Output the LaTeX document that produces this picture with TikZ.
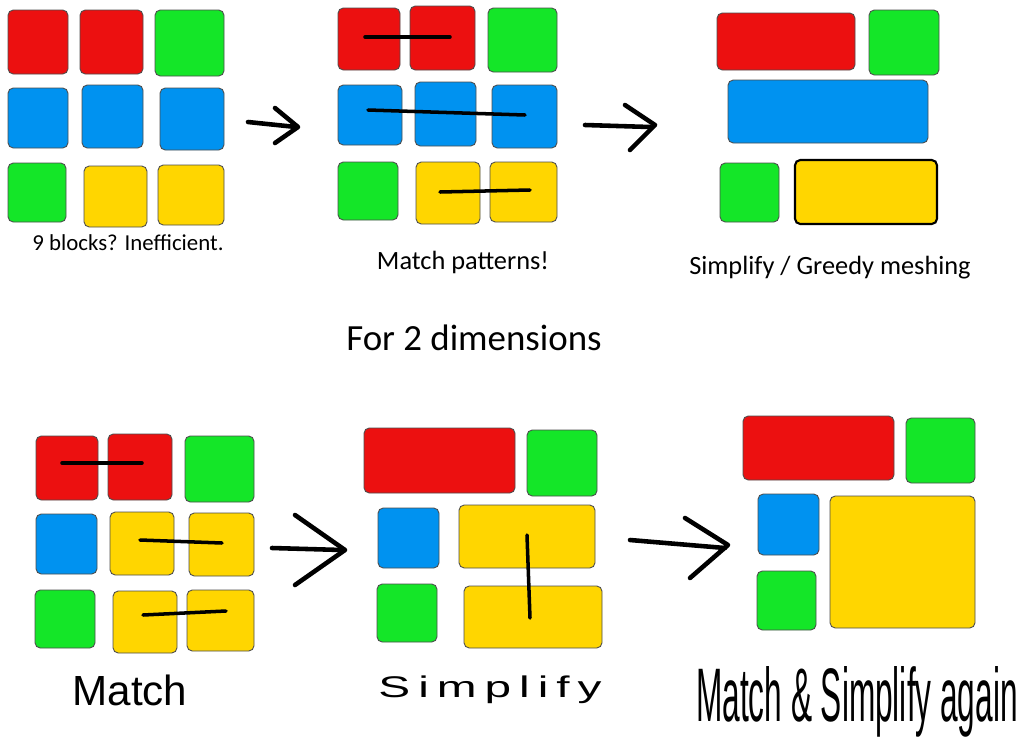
\documentclass[tikz,border=0pt]{standalone}
\usepackage{fontspec}
\setmainfont{Carlito}
\newfontfamily\handfont{Liberation Sans}
\definecolor{bred}{RGB}{236,16,16}
\definecolor{bgreen}{RGB}{20,230,40}
\definecolor{bblue}{RGB}{0,146,240}
\definecolor{byellow}{RGB}{255,214,0}
\tikzset{
	blk/.style      = {draw=black!70, rounded corners=3pt, line width=0.5pt},
	red/.style      = {blk, fill=bred},
	green/.style    = {blk, fill=bgreen},
	blue/.style     = {blk, fill=bblue},
	yellow/.style   = {blk, fill=byellow},
	match/.style    = {line width=2pt, line cap=round},
	hand/.style     = {line width=2.6pt, line cap=round, line join=round},
	label/.style    = {font=\fontsize{13}{15}\selectfont}
}

\begin{document}
\begin{tikzpicture}[x=0.02cm, y=-0.02cm]
	\useasboundingbox (0,0) rectangle (1029,748);
	% top left
	\draw[red] (8,10) rectangle (68,74);
	\draw[red] (80,10) rectangle (143,74);
	\draw[green] (155,10) rectangle (224,76);
	\draw[blue] (8,88) rectangle (68,148);
	\draw[blue] (82,85) rectangle (143,148);
	\draw[blue] (160,88) rectangle (224,150);
	\draw[green] (8,163) rectangle (66,222);
	\draw[yellow] (84,166) rectangle (147,227);
	\draw[yellow] (158,165) rectangle (224,225);
	\node[label] (t1) at (128,243) {9 blocks? Inefficient.};
	\draw[hand] (248,122) -- (296,127);
	\draw[hand] (275,108) -- (298,127) -- (275,143);
	% top middle
	\draw[red] (338,8) rectangle (400,70);
	\draw[red] (410,6) rectangle (475,70);
	\draw[green] (488,8) rectangle (557,72);
	\draw[blue] (338,85) rectangle (402,145);
	\draw[blue] (415,82) rectangle (476,146);
	\draw[blue] (492,85) rectangle (557,148);
	\draw[green] (338,162) rectangle (398,220);
	\draw[yellow] (416,162) rectangle (480,224);
	\draw[yellow] (490,162) rectangle (557,222);
	\draw[match] (365,37) -- (450,37);
	\draw[match] (368,110) -- (525,115);
	\draw[match] (440,192) -- (530,190);
	\node[label, font=\fontsize{15}{17}\selectfont] (t2) at (463,262) {Match patterns!};
	\draw[hand] (585,125) -- (650,127);
	\draw[hand] (625,105) -- (655,125) -- (630,150);
	% top right
	\draw[red] (717,13) rectangle (855,70);
	\draw[green] (869,10) rectangle (939,75);
	\draw[blue] (728,80) rectangle (928,143);
	\draw[green] (720,163) rectangle (779,222);
	\draw[yellow, line width=1.2pt, draw=black] (795,160) rectangle (937,224);
	\node[label, font=\fontsize{15}{17}\selectfont] (t3) at (830,268) {Simplify / Greedy meshing};
	% heading
	\node[font=\fontsize{21}{24}\selectfont] (head) at (474,338) {For 2 dimensions};
	% bottom left
	\draw[red] (36,436) rectangle (98,500);
	\draw[red] (108,434) rectangle (172,500);
	\draw[green] (185,436) rectangle (254,502);
	\draw[blue] (36,514) rectangle (97,574);
	\draw[yellow] (110,512) rectangle (174,575);
	\draw[yellow] (189,513) rectangle (254,576);
	\draw[green] (35,590) rectangle (95,648);
	\draw[yellow] (113,591) rectangle (177,653);
	\draw[yellow] (187,590) rectangle (254,651);
	\draw[match] (62,463) -- (142,463);
	\draw[match] (140,540) -- (222,543);
	\draw[match] (143,615) -- (226,611);
	\node[font=\handfont\fontsize{24}{28}\selectfont] (t4) at (130,690) {Match};
	\draw[hand] (272,548) -- (342,550);
	\draw[hand] (295,515) -- (345,550) -- (295,585);
	% bottom middle
	\draw[red] (364,428) rectangle (515,493);
	\draw[green] (527,430) rectangle (597,496);
	\draw[blue] (378,508) rectangle (439,568);
	\draw[yellow] (459,505) rectangle (595,568);
	\draw[green] (377,584) rectangle (437,642);
	\draw[yellow] (464,586) rectangle (602,648);
	\draw[match] (527,535) -- (530,618);
	\node[font=\handfont\fontsize{17}{20}\selectfont, xscale=1.6] (t5) at (490,690) {S\,i\,m\,p\,l\,i\,f\,y};
	\draw[hand] (630,540) -- (725,548);
	\draw[hand] (685,518) -- (728,545) -- (690,578);
	% bottom right
	\draw[red] (743,416) rectangle (894,480);
	\draw[green] (906,418) rectangle (975,483);
	\draw[blue] (758,494) rectangle (819,555);
	\draw[yellow] (830,496) rectangle (975,628);
	\draw[green] (757,571) rectangle (816,630);
	\node[font=\handfont\fontsize{36}{40}\selectfont, xscale=0.5, yscale=1.2] (t6) at (857,702) {Match \& Simplify again};
\end{tikzpicture}
\end{document}
